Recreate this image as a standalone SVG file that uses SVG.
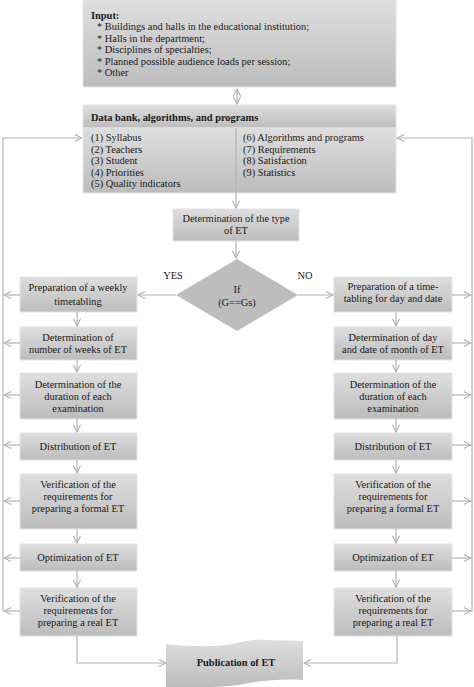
<svg xmlns="http://www.w3.org/2000/svg" width="474" height="687" viewBox="0 0 474 687">
<defs>
<linearGradient id="g" x1="0" y1="0" x2="0" y2="1">
<stop offset="0" stop-color="#dedede"/>
<stop offset="1" stop-color="#bcbcbc"/>
</linearGradient>
<marker id="a" viewBox="0 0 10 10" refX="9" refY="5" markerWidth="9" markerHeight="9" markerUnits="userSpaceOnUse" orient="auto-start-reverse">
<path d="M1,1 L9,5 L1,9" fill="none" stroke="#b0b0b0" stroke-width="1.2"/>
</marker>
<style>
.box{fill:url(#g);stroke:#e4e4e4;stroke-width:1}
.t{font-family:"Liberation Serif","Times New Roman",serif;font-size:10.4px;fill:#1a1a1a}
.c{text-anchor:middle}
.b{font-weight:bold}
.ln{fill:none;stroke:#b3b3b3;stroke-width:1.2}
.ar{marker-end:url(#a)}
</style>
</defs>
<g id="input">
<rect class="box" x="83" y="0" width="313" height="87"/>
<text class="t b" x="91" y="19">Input:</text>
<text class="t" x="97" y="30">* Buildings and halls in the educational institution;</text>
<text class="t" x="97" y="41.5">* Halls in the department;</text>
<text class="t" x="97" y="53">* Disciplines of specialties;</text>
<text class="t" x="97" y="64.5">* Planned possible audience loads per session;</text>
<text class="t" x="97" y="76">* Other</text>
</g>
<g id="databank">
<rect class="box" x="83" y="105" width="313" height="23"/>
<rect class="box" x="83" y="128" width="313" height="65"/>
<text class="t b" x="91" y="121">Data bank, algorithms, and programs</text>
<text class="t" x="91" y="141">(1) Syllabus</text>
<text class="t" x="91" y="152.5">(2) Teachers</text>
<text class="t" x="91" y="164">(3) Student</text>
<text class="t" x="91" y="175.5">(4) Priorities</text>
<text class="t" x="91" y="187">(5) Quality indicators</text>
<text class="t" x="243" y="141">(6) Algorithms and programs</text>
<text class="t" x="243" y="152.5">(7) Requirements</text>
<text class="t" x="243" y="164">(8) Satisfaction</text>
<text class="t" x="243" y="175.5">(9) Statistics</text>
</g>
<g id="type">
<rect class="box" x="173" y="209" width="126" height="32"/>
<text class="t c" x="236" y="222">Determination of the type</text>
<text class="t c" x="236" y="234">of ET</text>
</g>
<g id="decision">
<polygon points="237,259 298,295 237,331 176,295" fill="#bdbdbd"/>
<text class="t c" x="237" y="293">If</text>
<text class="t c" x="237" y="306">(G==Gs)</text>
<text class="t c" x="173" y="279">YES</text>
<text class="t c" x="305" y="279">NO</text>
</g>
<g id="L1"><rect class="box" x="20" y="277" width="117" height="35"/>
<text class="t c" x="78" y="291">Preparation of a weekly</text>
<text class="t c" x="78" y="305">timetabling</text></g>
<g id="L2"><rect class="box" x="20" y="327" width="117" height="33"/>
<text class="t c" x="78" y="341">Determination of</text>
<text class="t c" x="78" y="353">number of weeks of ET</text></g>
<g id="L3"><rect class="box" x="20" y="373" width="117" height="46"/>
<text class="t c" x="78" y="388">Determination of the</text>
<text class="t c" x="78" y="400">duration of each</text>
<text class="t c" x="78" y="412">examination</text></g>
<g id="L4"><rect class="box" x="20" y="433" width="117" height="27"/>
<text class="t c" x="78" y="450">Distribution of ET</text></g>
<g id="L5"><rect class="box" x="20" y="474" width="117" height="55"/>
<text class="t c" x="78" y="488">Verification of the</text>
<text class="t c" x="78" y="500">requirements for</text>
<text class="t c" x="78" y="512">preparing a formal ET</text></g>
<g id="L6"><rect class="box" x="20" y="544" width="117" height="27"/>
<text class="t c" x="78" y="561">Optimization of ET</text></g>
<g id="L7"><rect class="box" x="20" y="588" width="117" height="48"/>
<text class="t c" x="78" y="602">Verification of the</text>
<text class="t c" x="78" y="614">requirements for</text>
<text class="t c" x="78" y="626">preparing a real ET</text></g>
<g id="R1"><rect class="box" x="334" y="277" width="118" height="35"/>
<text class="t c" x="393" y="290">Preparation of a time-</text>
<text class="t c" x="393" y="302">tabling for day and date</text></g>
<g id="R2"><rect class="box" x="334" y="327" width="118" height="33"/>
<text class="t c" x="393" y="341">Determination of day</text>
<text class="t c" x="393" y="353">and date of month of ET</text></g>
<g id="R3"><rect class="box" x="334" y="373" width="118" height="46"/>
<text class="t c" x="393" y="388">Determination of the</text>
<text class="t c" x="393" y="400">duration of each</text>
<text class="t c" x="393" y="412">examination</text></g>
<g id="R4"><rect class="box" x="334" y="433" width="118" height="27"/>
<text class="t c" x="393" y="450">Distribution of ET</text></g>
<g id="R5"><rect class="box" x="334" y="474" width="118" height="55"/>
<text class="t c" x="393" y="488">Verification of the</text>
<text class="t c" x="393" y="500">requirements for</text>
<text class="t c" x="393" y="512">preparing a formal ET</text></g>
<g id="R6"><rect class="box" x="334" y="544" width="118" height="27"/>
<text class="t c" x="393" y="561">Optimization of ET</text></g>
<g id="R7"><rect class="box" x="334" y="588" width="118" height="48"/>
<text class="t c" x="393" y="602">Verification of the</text>
<text class="t c" x="393" y="614">requirements for</text>
<text class="t c" x="393" y="626">preparing a real ET</text></g>
<g id="publication">
<path d="M166,644 C190,647 215,647 232,644 C246,641 252,639 265,640 L303,641 L303,680 C285,679 270,680 255,682 C240,685 225,687 205,687 L166,687 Z" fill="url(#g)"/>
<text class="t c b" x="236" y="666">Publication of ET</text>
</g>
<g id="connectors">
<path class="ln" d="M237,89 L237,104" marker-start="url(#a)" marker-end="url(#a)"/>
<path class="ln ar" d="M236,128 L236,208"/>
<path class="ln ar" d="M236,241 L236,258"/>
<path class="ln ar" d="M176,295 L138,295"/>
<path class="ln ar" d="M298,295 L333,295"/>
<path class="ln ar" d="M3,612 L3,138 L82,138"/>
<path class="ln ar" d="M472,612 L472,138 L397,138"/>
<path class="ln ar" d="M20,295 L4,295"/>
<path class="ln ar" d="M20,343 L4,343"/>
<path class="ln ar" d="M20,395 L4,395"/>
<path class="ln ar" d="M20,445 L4,445"/>
<path class="ln ar" d="M20,501 L4,501"/>
<path class="ln ar" d="M20,558 L4,558"/>
<path class="ln ar" d="M20,611 L4,611"/>
<path class="ln ar" d="M452,295 L471,295"/>
<path class="ln ar" d="M452,343 L471,343"/>
<path class="ln ar" d="M452,395 L471,395"/>
<path class="ln ar" d="M452,445 L471,445"/>
<path class="ln ar" d="M452,501 L471,501"/>
<path class="ln ar" d="M452,558 L471,558"/>
<path class="ln ar" d="M452,611 L471,611"/>
<path class="ln ar" d="M77,312 L77,326"/>
<path class="ln ar" d="M77,360 L77,372"/>
<path class="ln ar" d="M77,419 L77,432"/>
<path class="ln ar" d="M77,460 L77,473"/>
<path class="ln ar" d="M77,529 L77,543"/>
<path class="ln ar" d="M77,571 L77,587"/>
<path class="ln ar" d="M396,312 L396,326"/>
<path class="ln ar" d="M396,360 L396,372"/>
<path class="ln ar" d="M396,419 L396,432"/>
<path class="ln ar" d="M396,460 L396,473"/>
<path class="ln ar" d="M396,529 L396,543"/>
<path class="ln ar" d="M396,571 L396,587"/>
<path class="ln ar" d="M77,636 L77,663 L166,663"/>
<path class="ln ar" d="M397,636 L397,663 L304,663"/>
</g>
</svg>
